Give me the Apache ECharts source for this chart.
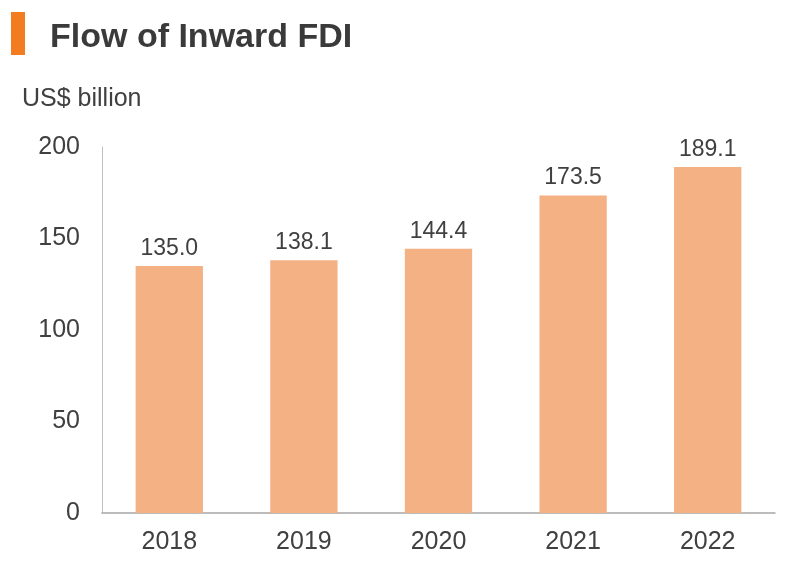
<!DOCTYPE html>
<html><head><meta charset="utf-8">
<script src="https://cdn.jsdelivr.net/npm/echarts@6/dist/echarts.min.js"></script>
<style>html,body{margin:0;padding:0;background:#fff}#c{width:795px;height:573px}</style>
</head><body><div id="c"></div>
<script>
const categories = ['2018','2019','2020','2021','2022'];
const values = [135.0, 138.1, 144.4, 173.5, 189.1];
const yTicks = [0, 50, 100, 150, 200];

const FONT = 'Arial, "Liberation Sans", sans-serif';
const chart = echarts.init(document.getElementById('c'), null, {renderer:'canvas'});
chart.setOption({
  animation:false,
  backgroundColor:'#fff',
  title:[{
    text:'Flow of Inward FDI', left:45, top:16,
    textStyle:{fontFamily:FONT, fontWeight:'bold', fontSize:34, color:'#3a3a3a'}
  },{
    text:'US$ billion', left:17, top:82,
    textStyle:{fontFamily:FONT, fontWeight:'normal', fontSize:25, color:'#404040'}
  }],
  graphic:[{type:'rect', shape:{x:11,y:12,width:14,height:43}, style:{fill:'#F47C20'}}],
  grid:{left:102, right:20, top:147, bottom:60},
  xAxis:{
    type:'category', data:categories,
    axisLine:{lineStyle:{color:'#a6a6a6', width:1.5}},
    axisTick:{show:false},
    axisLabel:{fontFamily:FONT, fontSize:25, color:'#404040', margin:17}
  },
  yAxis:{
    type:'value', min:yTicks[0], max:yTicks[yTicks.length-1], interval:50,
    axisLine:{show:true, lineStyle:{color:'#bfbfbf', width:1}},
    axisTick:{show:false},
    splitLine:{show:false},
    axisLabel:{fontFamily:FONT, fontSize:25, color:'#404040', margin:22}
  },
  series:[{
    type:'bar', data:values, barWidth:'50%',
    itemStyle:{color:'#F4B183'},
    label:{show:true, position:'top', distance:6, formatter:p=>p.value.toFixed(1),
      fontFamily:FONT, fontSize:23, color:'#404040'}
  }]
});
</script></body></html>
